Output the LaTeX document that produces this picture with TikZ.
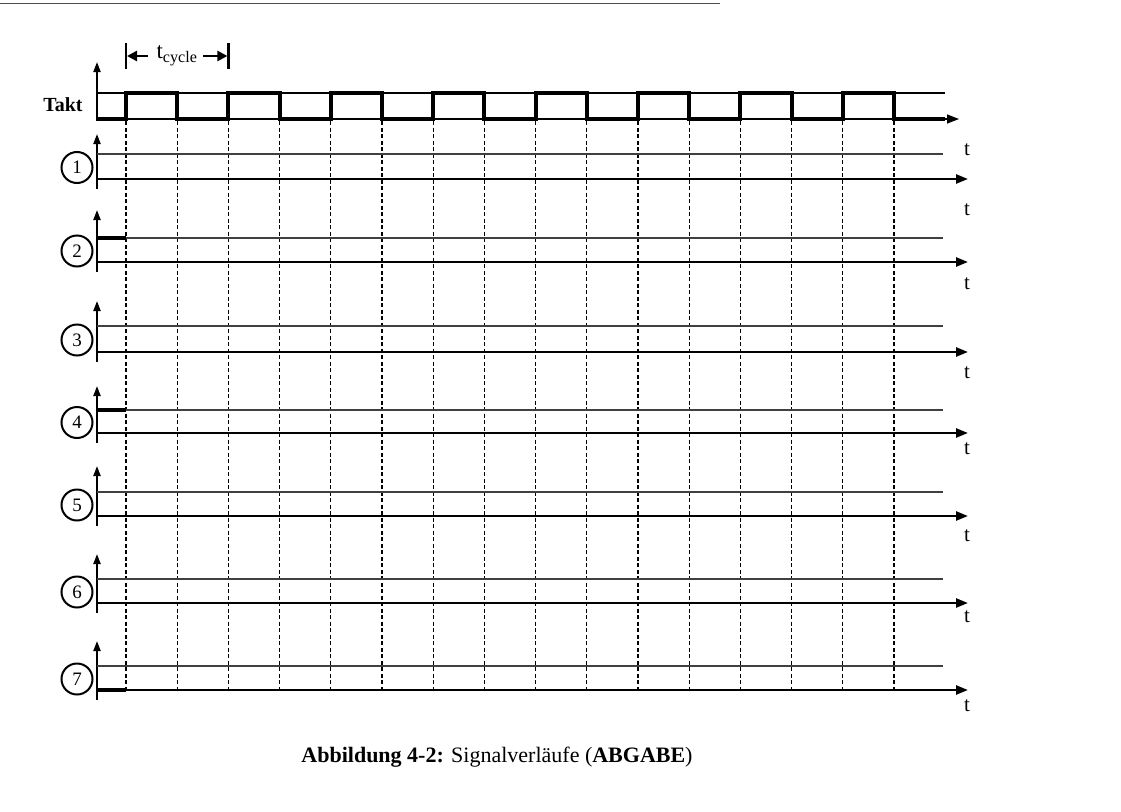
\documentclass[tikz,border=0pt]{standalone}
\usepackage{fontspec}
\setmainfont{Liberation Serif}
\usetikzlibrary{arrows.meta}
\begin{document}
\begin{tikzpicture}[x=1pt,y=-1pt,
  axisline/.style={line width=2.4pt,-{Triangle[length=12pt,width=9pt]}},
  vaxis/.style={line width=2pt,-{Triangle[length=10pt,width=7pt]}},
  highline/.style={line width=2.4pt,draw=black!75},
  refline/.style={line width=1.5pt},
  taktline/.style={line width=4pt,line join=miter},
  thickseg/.style={line width=4.5pt},
  gridline/.style={line width=1.1pt,dash pattern=on 4pt off 2.5pt},
  num/.style={circle,draw,line width=2pt,minimum size=31pt,inner sep=0pt,font=\fontsize{19}{19}\selectfont},
  tlab/.style={font=\fontsize{21}{21}\selectfont,anchor=center},
  cyc/.style={line width=2.5pt,-{Triangle[length=10pt,width=10pt]}}
]
\useasboundingbox (0,0) rectangle (1121,811);
% top rule
\draw[line width=1pt,black!70] (0,3) -- (720,3);
% grid
\foreach \i in {0,...,15}{
  \draw[gridline] ({126+\i*51.2},121) -- ({126+\i*51.2},690);
}
% Takt
\node[font=\bfseries\fontsize{20}{20}\selectfont] (takt) at (63,105) {Takt};
\coordinate (tk0) at (97,121);
\coordinate (tkt) at (97,62);
\draw[vaxis] (tk0) -- (tkt);
\coordinate (tka) at (97,119);
\coordinate (tkb) at (959,119);
\draw[axisline,line width=1.5pt] (tka) -- (tkb);
\draw[refline] (97,93) -- (945,93);
\draw[taktline] (97,119) foreach \i in {0,...,7} { -- ({126+2*\i*51.2},119) -- ({126+2*\i*51.2},93) -- ({126+(2*\i+1)*51.2},93) -- ({126+(2*\i+1)*51.2},119) } -- (945,119);
\node[tlab] (tt0) at (967,150) {t};
% t_cycle
\coordinate (cb1a) at (126,43); \coordinate (cb1b) at (126,69);
\coordinate (cb2a) at (228.4,43); \coordinate (cb2b) at (228.4,69);
\draw[line width=2.2pt] (cb1a) -- (cb1b);
\draw[line width=2.2pt] (cb2a) -- (cb2b);
\node[font=\fontsize{23}{23}\selectfont] (tcyc) at (177,56) {t\textsubscript{cycle}};
\coordinate (ca) at (127,56); \coordinate (cb) at (227.4,56);
\coordinate (cs1) at (148,56); \coordinate (cs2) at (203,56);
\draw[cyc] (cs1) -- (ca);
\draw[cyc] (cs2) -- (cb);
% rows: axis y, high y, arrow top y, label y
\foreach \n/\ay/\hy/\ty/\ly in {1/179/154/134/210, 2/262/238/210/284, 3/352/326/301/373, 4/433/410/386/449, 5/516/492/466/536, 6/603/579/554/617, 7/690/666/641/706}{
  \node[num] (c\n) at (77,{(\hy+\ay)/2+1}) {\n};
  \coordinate (v\n a) at (97,{\ay+10});
  \coordinate (v\n b) at (97,\ty);
  \draw[vaxis] (v\n a) -- (v\n b);
  \draw[highline] (97,\hy) -- (943,\hy);
  \coordinate (h\n a) at (96,\ay);
  \coordinate (h\n b) at (968,\ay);
  \draw[axisline] (h\n a) -- (h\n b);
  \node[tlab] (t\n) at (967,\ly) {t};
}
\draw[thickseg] (97,238) -- (126,238);
\draw[thickseg] (97,410) -- (126,410);
\draw[thickseg] (97,690) -- (126,690);
% caption
\node[font=\fontsize{22}{22}\selectfont] (cap) at (497,757) {\textbf{Abbildung 4-2:} Signalverläufe (\textbf{ABGABE})};
\end{tikzpicture}
\end{document}
